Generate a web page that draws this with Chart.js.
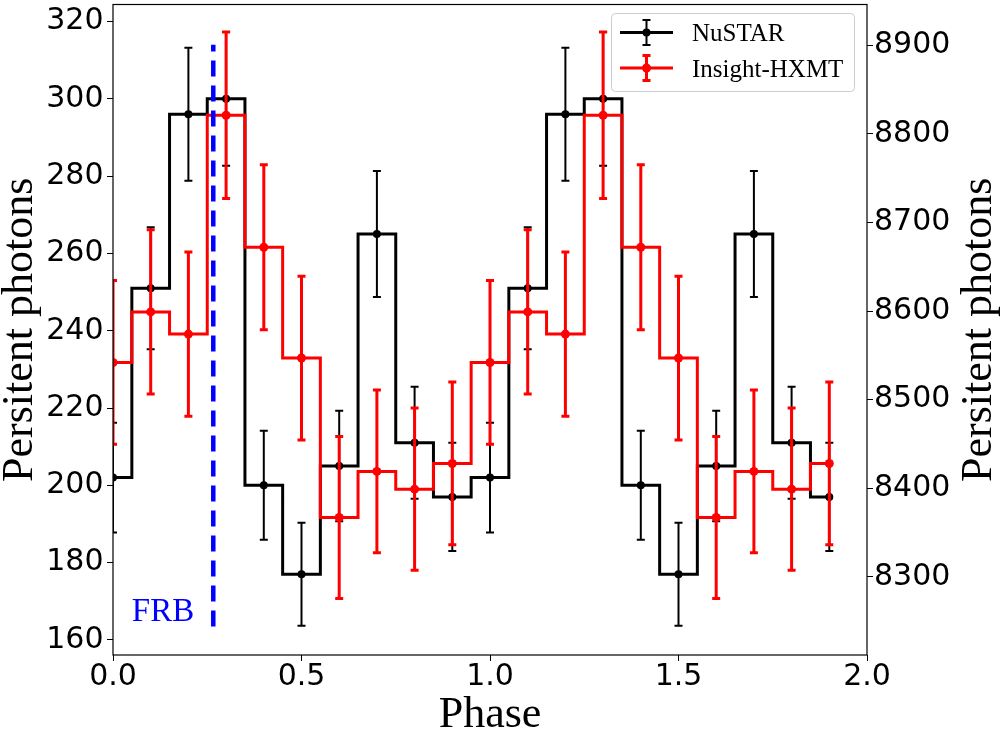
<!DOCTYPE html>
<html>
<head>
<meta charset="utf-8">
<script src="https://cdn.jsdelivr.net/npm/chart.js@4.4.1/dist/chart.umd.min.js"></script>
<style>
  html, body { margin: 0; padding: 0; background: #fff; }
  #wrap { width: 1000px; height: 730px; }
</style>
</head>
<body>
<div id="wrap"><canvas id="pp" width="1000" height="730"></canvas></div>
<script>
// phase bins (two cycles)
const phases = [0.0, 0.1, 0.2, 0.3, 0.4, 0.5, 0.6, 0.7, 0.8, 0.9,
                1.0, 1.1, 1.2, 1.3, 1.4, 1.5, 1.6, 1.7, 1.8, 1.9];

// NuSTAR, left axis
const nustarCounts = [202, 251, 296, 300, 200, 177, 205, 265, 211, 197,
                      202, 251, 296, 300, 200, 177, 205, 265, 211, 197];
const nustarErr = [14.2, 15.8, 17.2, 17.3, 14.1, 13.3, 14.3, 16.3, 14.5, 14.0,
                   14.2, 15.8, 17.2, 17.3, 14.1, 13.3, 14.3, 16.3, 14.5, 14.0];

// Insight-HXMT, right axis
const hxmtCounts = [8542, 8599, 8574, 8821, 8672, 8547, 8367, 8419, 8399, 8428,
                    8542, 8599, 8574, 8821, 8672, 8547, 8367, 8419, 8399, 8428];
const hxmtErr = [92.4, 92.7, 92.6, 93.9, 93.1, 92.4, 91.5, 91.8, 91.6, 91.8,
                 92.4, 92.7, 92.6, 93.9, 93.1, 92.4, 91.5, 91.8, 91.6, 91.8];

// FRB marker
const frbPhase = 0.266;
const frbSpan = [163.5, 314];
const frbLabelAt = [0.05, 165];

// axis limits
const phaseRange = [0, 2];
const nustarRange = [156.1, 324.4];
const hxmtRange = [8211.8, 8946];

const serif = '"Liberation Serif", "Times New Roman", serif';
const sans = '"DejaVu Sans", sans-serif';

const toPoints = (xs, ys) => xs.map((x, i) => ({ x: x, y: ys[i] }));

// matplotlib-like errorbars, drawn right after their dataset
const errorBars = {
    id: 'errorBars',
    afterDatasetDraw(chart, args) {
        const ds = chart.data.datasets[args.index];
        if (!ds.errors) return;
        const ctx = chart.ctx, a = chart.chartArea;
        const xs = chart.scales.x, ys = chart.scales[ds.yAxisID];
        ctx.save();
        ctx.beginPath();
        ctx.rect(a.left, a.top, a.right - a.left, a.bottom - a.top);
        ctx.clip();
        ctx.strokeStyle = ds.borderColor;
        ctx.lineWidth = ds.errWidth;
        ds.data.forEach((p, i) => {
            const x = xs.getPixelForValue(p.x);
            const lo = ys.getPixelForValue(p.y - ds.errors[i]);
            const hi = ys.getPixelForValue(p.y + ds.errors[i]);
            ctx.beginPath();
            ctx.moveTo(x, lo); ctx.lineTo(x, hi);
            ctx.moveTo(x - 4, lo); ctx.lineTo(x + 4, lo);
            ctx.moveTo(x - 4, hi); ctx.lineTo(x + 4, hi);
            ctx.stroke();
        });
        ctx.restore();
    }
};

// frame, axis titles, FRB label and legend
const decorations = {
    id: 'decorations',
    afterDraw(chart) {
        const ctx = chart.ctx, a = chart.chartArea;
        ctx.save();
        ctx.strokeStyle = '#000';
        ctx.lineWidth = 1.2;
        ctx.strokeRect(a.left, a.top, a.right - a.left, a.bottom - a.top);

        ctx.fillStyle = '#000';
        ctx.font = '44px ' + serif;
        ctx.textAlign = 'center';
        ctx.textBaseline = 'alphabetic';
        ctx.fillText('Phase', (a.left + a.right) / 2, 727);

        const midY = (a.top + a.bottom) / 2;
        [32, 991].forEach(bx => {
            ctx.save();
            ctx.translate(bx, midY);
            ctx.rotate(-Math.PI / 2);
            ctx.fillText('Persitent photons', 0, 0);
            ctx.restore();
        });

        // FRB label
        ctx.fillStyle = '#0000ff';
        ctx.font = '33px ' + serif;
        ctx.textAlign = 'left';
        ctx.fillText('FRB', chart.scales.x.getPixelForValue(frbLabelAt[0]),
                     chart.scales.y.getPixelForValue(frbLabelAt[1]));

        // legend
        const bx = 611.5, by = 13.5, bw = 243, bh = 78, r = 4;
        ctx.beginPath();
        ctx.roundRect(bx, by, bw, bh, r);
        ctx.fillStyle = 'rgba(255,255,255,0.8)';
        ctx.fill();
        ctx.strokeStyle = '#cccccc';
        ctx.lineWidth = 1;
        ctx.stroke();

        const rows = chart.data.datasets.filter(d => d.errors)
            .sort((p, q) => p.legendRank - q.legendRank);
        rows.forEach((d, i) => {
            const cy = 32.5 + i * 35.5;
            ctx.strokeStyle = d.borderColor;
            ctx.fillStyle = d.borderColor;
            ctx.lineWidth = 3;
            ctx.beginPath();
            ctx.moveTo(620, cy); ctx.lineTo(673, cy);
            ctx.stroke();
            ctx.lineWidth = d.errWidth;
            ctx.beginPath();
            ctx.moveTo(646.5, cy - 12.5); ctx.lineTo(646.5, cy + 12.5);
            ctx.moveTo(642.5, cy - 12.5); ctx.lineTo(650.5, cy - 12.5);
            ctx.moveTo(642.5, cy + 12.5); ctx.lineTo(650.5, cy + 12.5);
            ctx.stroke();
            ctx.beginPath();
            ctx.arc(646.5, cy, d.pointRadius, 0, Math.PI * 2);
            ctx.fill();
            ctx.fillStyle = '#000';
            ctx.font = '25px ' + serif;
            ctx.fillText(d.label, 692, cy + 8.8);
        });
        ctx.restore();
    }
};

const fixBox = (w, h) => scale => {
    if (w !== null) scale.width = w;
    if (h !== null) scale.height = h;
    scale.paddingTop = 0; scale.paddingBottom = 0;
    scale.paddingLeft = 0; scale.paddingRight = 0;
};

const tickGrid = { display: true, drawOnChartArea: false, drawTicks: true, tickLength: 6, color: '#000', lineWidth: 1 };

new Chart(document.getElementById('pp'), {
    type: 'line',
    data: {
        datasets: [{
            label: 'FRB',
            data: [{ x: frbPhase, y: frbSpan[0] }, { x: frbPhase, y: frbSpan[1] }],
            yAxisID: 'y',
            borderColor: '#0000ff',
            borderWidth: 4.5,
            borderDash: [16, 9],
            borderCapStyle: 'butt',
            pointRadius: 0,
            order: -1
        }, {
            label: 'Insight-HXMT',
            data: toPoints(phases, hxmtCounts),
            errors: hxmtErr,
            errWidth: 3,
            legendRank: 2,
            yAxisID: 'y2',
            stepped: 'middle',
            borderColor: '#ff0000',
            backgroundColor: '#ff0000',
            borderWidth: 3,
            pointRadius: 4.5,
            pointBorderWidth: 0,
            pointBackgroundColor: '#ff0000',
            order: 0
        }, {
            label: 'NuSTAR',
            data: toPoints(phases, nustarCounts),
            errors: nustarErr,
            errWidth: 2,
            legendRank: 1,
            yAxisID: 'y',
            stepped: 'middle',
            borderColor: '#000000',
            backgroundColor: '#000000',
            borderWidth: 3,
            pointRadius: 4,
            pointBorderWidth: 0,
            pointBackgroundColor: '#000000',
            order: 1
        }]
    },
    options: {
        responsive: false,
        animation: false,
        devicePixelRatio: 1,
        layout: { padding: { top: 2, left: 0, right: 0, bottom: 0 } },
        scales: {
            x: {
                type: 'linear',
                min: phaseRange[0],
                max: phaseRange[1],
                grid: tickGrid,
                border: { display: false },
                afterFit: fixBox(null, 75),
                ticks: {
                    stepSize: 0.5,
                    padding: 1,
                    color: '#000',
                    font: { family: sans, size: 30, lineHeight: 1 },
                    callback: v => v.toFixed(1)
                }
            },
            y: {
                position: 'left',
                min: nustarRange[0],
                max: nustarRange[1],
                grid: tickGrid,
                border: { display: false },
                afterFit: fixBox(113, null),
                ticks: {
                    stepSize: 20,
                    includeBounds: false,
                    padding: 3.5,
                    color: '#000',
                    font: { family: sans, size: 30 },
                    callback: v => String(v)
                }
            },
            y2: {
                position: 'right',
                min: hxmtRange[0],
                max: hxmtRange[1],
                grid: tickGrid,
                border: { display: false },
                afterFit: fixBox(133, null),
                ticks: {
                    stepSize: 100,
                    includeBounds: false,
                    padding: 1,
                    color: '#000',
                    font: { family: sans, size: 30 },
                    callback: v => String(v)
                }
            }
        },
        plugins: {
            legend: { display: false },
            tooltip: { enabled: false }
        }
    },
    plugins: [errorBars, decorations]
});
</script>
</body>
</html>
